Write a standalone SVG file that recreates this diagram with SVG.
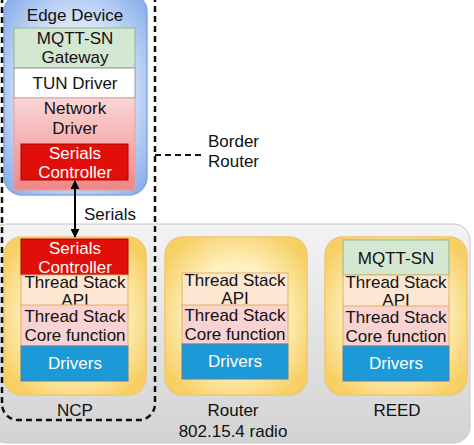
<svg xmlns="http://www.w3.org/2000/svg" width="474" height="445" viewBox="0 0 474 445">
<defs>
<linearGradient id="gray" x1="0" y1="0" x2="0" y2="1">
<stop offset="0" stop-color="#f3f3f3"/><stop offset="1" stop-color="#d3d3d3"/>
</linearGradient>
<radialGradient id="yellow" cx="0.5" cy="0.5" r="0.6">
<stop offset="0.55" stop-color="#fff0c0"/><stop offset="1" stop-color="#f7cf63"/>
</radialGradient>
<radialGradient id="blue" cx="0.5" cy="0.5" r="0.65">
<stop offset="0.55" stop-color="#d6e4fa"/><stop offset="1" stop-color="#8cb0ea"/>
</radialGradient>
<linearGradient id="pink" x1="0" y1="0" x2="0" y2="1">
<stop offset="0" stop-color="#fbd6d6"/><stop offset="1" stop-color="#ef8686"/>
</linearGradient>
<marker id="ah" viewBox="0 0 10 10" refX="9" refY="5" markerWidth="9" markerHeight="9" orient="auto-start-reverse" markerUnits="userSpaceOnUse">
<path d="M0,0 L10,5 L0,10 z" fill="#000"/>
</marker>
<style>
text{font-family:"Liberation Sans",Arial,Helvetica,sans-serif;font-size:17px;fill:#111;text-anchor:middle}
.w{fill:#fff}
.api{fill:#fde6d2;stroke:#e8b060;stroke-width:1}
.core{fill:#f9d2d2;stroke:#e8b060;stroke-width:1}
.drv{fill:#1c9ad8;stroke:#5a7fa0;stroke-width:1}
.grn{fill:#d4e7d2;stroke:#8fb88a;stroke-width:1}
.red{fill:#e00f0a;stroke:#b00000;stroke-width:1}
.ybox{fill:url(#yellow);stroke:#efc870;stroke-width:1.5}
</style>
</defs>

<g id="panel">
<rect x="-10" y="224" width="480" height="219" rx="16" fill="url(#gray)" stroke="#c8c8c8" stroke-width="1"/>
</g>

<g id="edge-device">
<rect x="4" y="-6" width="143" height="201" rx="18" fill="url(#blue)" stroke="#86a8e2" stroke-width="1.5"/>
<text x="75" y="21">Edge Device</text>
<rect class="grn" x="14" y="28" width="121" height="40"/>
<text x="75" y="44">MQTT-SN</text>
<text x="75" y="63">Gateway</text>
<rect x="14" y="68" width="121" height="30" fill="#fff" stroke="#999" stroke-width="1"/>
<text x="75" y="89">TUN Driver</text>
<rect x="14" y="98" width="121" height="92" fill="url(#pink)" stroke="#e8a0a0" stroke-width="1"/>
<text x="75" y="114">Network</text>
<text x="75" y="134">Driver</text>
<rect class="red" x="21" y="144" width="107" height="36"/>
<text class="w" x="75" y="159">Serials</text>
<text class="w" x="75" y="178">Controller</text>
</g>

<g id="ncp">
<rect class="ybox" x="4" y="237" width="142" height="158" rx="18"/>
<rect class="red" x="21" y="239" width="107" height="36"/>
<text class="w" x="75" y="254">Serials</text>
<text class="w" x="75" y="273">Controller</text>
<rect class="api" x="21" y="275" width="107" height="32"/>
<text x="75" y="288">Thread Stack</text>
<text x="75" y="306">API</text>
<rect class="core" x="21" y="305" width="107" height="41"/>
<text x="75" y="322">Thread Stack</text>
<text x="75" y="341">Core function</text>
<rect class="drv" x="21" y="346" width="107" height="35"/>
<text class="w" x="75" y="369">Drivers</text>
<text x="75" y="416">NCP</text>
</g>

<g id="router">
<rect class="ybox" x="165" y="237" width="142" height="158" rx="18"/>
<rect class="api" x="182" y="273" width="106" height="33"/>
<text x="235" y="286">Thread Stack</text>
<text x="235" y="304">API</text>
<rect class="core" x="182" y="305" width="106" height="39"/>
<text x="235" y="321">Thread Stack</text>
<text x="235" y="340">Core function</text>
<rect class="drv" x="182" y="344" width="106" height="35"/>
<text class="w" x="235" y="367">Drivers</text>
<text x="233" y="416">Router</text>
<text x="233" y="437">802.15.4 radio</text>
</g>

<g id="reed">
<rect class="ybox" x="325" y="237" width="142" height="158" rx="18"/>
<rect class="grn" x="343" y="240" width="106" height="35"/>
<text x="396" y="264">MQTT-SN</text>
<rect class="api" x="343" y="275" width="106" height="32"/>
<text x="396" y="288">Thread Stack</text>
<text x="396" y="306">API</text>
<rect class="core" x="343" y="306" width="106" height="40"/>
<text x="396" y="323">Thread Stack</text>
<text x="396" y="342">Core function</text>
<rect class="drv" x="343" y="346" width="106" height="35"/>
<text class="w" x="396" y="369">Drivers</text>
<text x="397" y="416">REED</text>
</g>

<g id="border-router">
<rect x="2" y="-14" width="153" height="434" rx="16" fill="none" stroke="#111" stroke-width="2.5" stroke-dasharray="6 4"/>
<text x="208" y="147" style="text-anchor:start">Border</text>
<text x="208" y="167" style="text-anchor:start">Router</text>
</g>

<g id="connectors">
<path d="M155,155 H205" fill="none" stroke="#111" stroke-width="2" stroke-dasharray="6 4"/>
<path d="M75,181 V237" fill="none" stroke="#000" stroke-width="2" marker-start="url(#ah)" marker-end="url(#ah)"/>
<text x="84" y="220" style="text-anchor:start">Serials</text>
</g>
</svg>
